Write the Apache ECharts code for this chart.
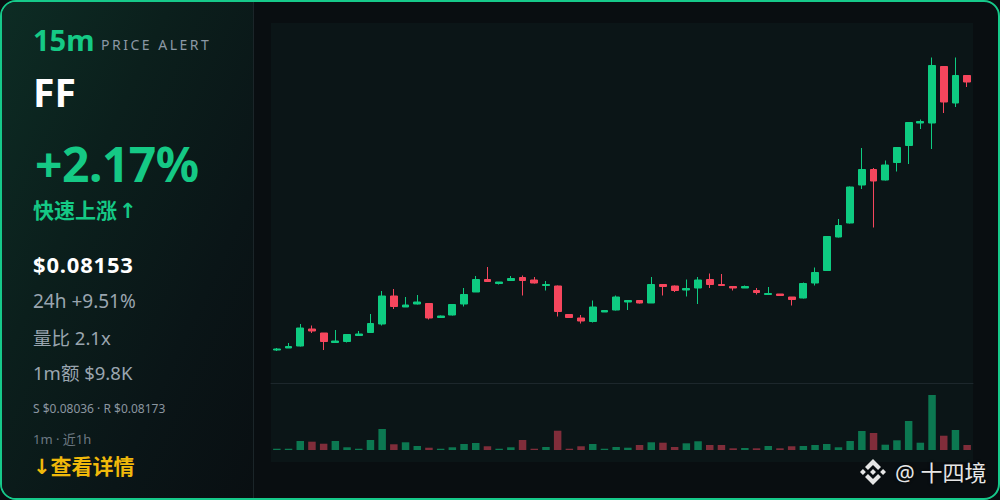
<!DOCTYPE html>
<html><head><meta charset="utf-8">
<script src="https://cdn.jsdelivr.net/npm/echarts/dist/echarts.min.js"></script>
<style>
html,body{margin:0;padding:0;width:1000px;height:500px;overflow:hidden;background:#0a0e11;}
#card{position:absolute;left:0;top:0;width:1000px;height:500px;box-sizing:border-box;border:2px solid #16c98a;border-radius:16px;background:#090e11;z-index:0;}
#plotbg{position:absolute;left:271px;top:23px;width:702px;height:439px;background:#0b1517;z-index:1;}
#chart{position:absolute;left:0;top:0;width:1000px;height:500px;z-index:2;}
#left{position:absolute;left:2px;top:2px;width:251px;height:496px;border-right:1px solid #1b2529;border-radius:14px 0 0 14px;
 background:linear-gradient(115deg,#0d2c24 0%,#0b1f1c 35%,#0a1517 70%,#090f12 100%);z-index:3;}
.t{position:absolute;white-space:nowrap;line-height:1;font-family:"Noto Sans","Noto Sans CJK SC",sans-serif;}
.ar{font-family:"Noto Sans","DejaVu Sans",sans-serif;display:inline-block;}
#wm{position:absolute;left:860px;top:459px;z-index:4;color:#e6e6e6;font-family:"Noto Sans","Noto Sans CJK SC",sans-serif;font-size:22px;line-height:1;white-space:nowrap;display:flex;align-items:center;text-shadow:0 0 3px #000;}
</style></head>
<body>
<div id="card"></div>
<div id="plotbg"></div>
<div id="chart"></div>
<div id="left">
 <div class="t" style="left:31px;top:23px;font-size:29px;font-weight:700;color:#15c985;">15m</div>
 <div class="t" style="left:99px;top:36px;font-size:14px;letter-spacing:2.5px;color:#8b98a5;">PRICE ALERT</div>
 <div class="t" style="left:31px;top:70px;font-size:39px;font-weight:700;color:#ffffff;">FF</div>
 <div class="t" style="left:33px;top:138px;font-size:48px;font-weight:700;color:#15c985;letter-spacing:-0.5px;">+2.17%</div>
 <div class="t" style="left:31px;top:198px;font-size:21px;font-weight:700;color:#15c985;">快速上涨<span class="ar" style="margin-left:2px;">↑</span></div>
 <div class="t" style="left:31px;top:251px;font-size:22px;font-weight:700;color:#ffffff;letter-spacing:0.8px;">$0.08153</div>
 <div class="t" style="left:31px;top:290px;font-size:19px;color:#9aa5af;">24h +9.51%</div>
 <div class="t" style="left:31px;top:327px;font-size:18.5px;color:#9aa5af;">量比 2.1x</div>
 <div class="t" style="left:31px;top:362px;font-size:18.5px;color:#9aa5af;">1m额 $9.8K</div>
 <div class="t" style="left:31px;top:401px;font-size:12px;color:#8b96a0;">S $0.08036 · R $0.08173</div>
 <div class="t" style="left:31px;top:431px;font-size:13px;color:#6d7983;">1m · 近1h</div>
 <div class="t" style="left:31px;top:454px;font-size:21px;font-weight:700;color:#f0b90b;"><span class="ar" style="margin-right:0px;">↓</span>查看详情</div>
</div>
<div id="wm">
 <svg width="26" height="26" viewBox="0 0 126.61 126.61" style="margin-right:9px"><g fill="#e6e6e6"><path d="M38.730 53.2l24.59-24.58 24.6 24.6 14.3-14.31L63.32 0l-38.9 38.9zM0 63.31l14.3-14.31 14.31 14.31-14.31 14.3zM38.73 73.41l24.59 24.59 24.6-24.6 14.31 14.29-38.9 38.91-38.91-38.88zM98 63.31l14.3-14.31 14.31 14.3-14.31 14.32z"/><path d="M77.83 63.3L63.32 48.78 52.59 59.51l-1.24 1.23-2.54 2.54 14.51 14.5 14.51-14.47z"/></g></svg>
 <span>@ 十四境</span>
</div>
<script>
var minutes = ["09:01","09:02","09:03","09:04","09:05","09:06","09:07","09:08","09:09","09:10",
"09:11","09:12","09:13","09:14","09:15","09:16","09:17","09:18","09:19","09:20",
"09:21","09:22","09:23","09:24","09:25","09:26","09:27","09:28","09:29","09:30",
"09:31","09:32","09:33","09:34","09:35","09:36","09:37","09:38","09:39","09:40",
"09:41","09:42","09:43","09:44","09:45","09:46","09:47","09:48","09:49","09:50",
"09:51","09:52","09:53","09:54","09:55","09:56","09:57","09:58","09:59","10:00"];
var opens = [0.080452,0.080460,0.080468,0.080536,0.080520,0.080482,0.080486,0.080510,0.080522,0.080556,
0.080668,0.080624,0.080636,0.080638,0.080582,0.080592,0.080636,0.080684,0.080734,0.080718,
0.080730,0.080742,0.080732,0.080710,0.080708,0.080594,0.080580,0.080566,0.080604,0.080612,
0.080644,0.080650,0.080640,0.080714,0.080708,0.080692,0.080700,0.080734,0.080714,0.080706,
0.080700,0.080690,0.080674,0.080676,0.080664,0.080660,0.080720,0.080770,0.080904,0.080960,
0.081112,0.081174,0.081132,0.081202,0.081270,0.081360,0.081360,0.081586,0.081440,0.081550];
var closes = [0.080456,0.080466,0.080540,0.080528,0.080486,0.080488,0.080514,0.080516,0.080558,0.080668,
0.080626,0.080632,0.080644,0.080580,0.080588,0.080634,0.080674,0.080734,0.080726,0.080724,
0.080738,0.080730,0.080720,0.080714,0.080606,0.080582,0.080568,0.080624,0.080610,0.080664,
0.080650,0.080640,0.080714,0.080706,0.080690,0.080698,0.080732,0.080714,0.080710,0.080700,
0.080706,0.080682,0.080678,0.080670,0.080654,0.080718,0.080762,0.080906,0.080950,0.081104,
0.081174,0.081128,0.081192,0.081262,0.081362,0.081366,0.081590,0.081444,0.081550,0.081524];
var lows = [0.080448,0.080460,0.080466,0.080520,0.080452,0.080482,0.080482,0.080510,0.080522,0.080550,
0.080616,0.080624,0.080634,0.080574,0.080582,0.080590,0.080626,0.080684,0.080726,0.080714,
0.080730,0.080670,0.080718,0.080690,0.080586,0.080580,0.080558,0.080562,0.080604,0.080610,
0.080612,0.080638,0.080640,0.080670,0.080684,0.080666,0.080636,0.080700,0.080708,0.080690,
0.080700,0.080674,0.080674,0.080670,0.080630,0.080658,0.080710,0.080768,0.080902,0.080958,
0.081096,0.080942,0.081130,0.081166,0.081196,0.081336,0.081256,0.081400,0.081424,0.081504];
var highs = [0.080460,0.080480,0.080556,0.080550,0.080520,0.080532,0.080516,0.080528,0.080596,0.080688,
0.080696,0.080664,0.080672,0.080640,0.080590,0.080636,0.080700,0.080748,0.080784,0.080724,
0.080748,0.080750,0.080744,0.080728,0.080710,0.080596,0.080592,0.080650,0.080612,0.080670,
0.080652,0.080652,0.080744,0.080716,0.080710,0.080734,0.080744,0.080758,0.080756,0.080706,
0.080710,0.080700,0.080704,0.080676,0.080664,0.080722,0.080782,0.080908,0.080976,0.081106,
0.081260,0.081180,0.081210,0.081264,0.081364,0.081374,0.081622,0.081588,0.081622,0.081552];
var volumesK = [2.5,2.5,17.6,16.3,12.3,17.6,5.3,2.5,19.6,41.2,
11.2,15.1,7.8,4.5,2.5,5.3,11.8,13.7,7.3,2.5,
5.3,19.6,2.5,5.9,37.8,2.5,7.3,11.8,2.5,5.9,
4.5,9.8,15.1,14.3,5.9,13.1,17.1,9.8,9.8,3.3,
3.9,3.3,7.8,3.3,7.3,7.8,9.8,11.8,5.3,17.6,
37.2,33.3,10.4,19.0,56.8,14.3,107.8,28.0,39.2,9.8];

var UP = '#0ecb81', DOWN = '#f6465d';
var candleData = opens.map(function(o,i){ return [o, closes[i], lows[i], highs[i]]; });
var volData = volumesK.map(function(v,i){
  return {value:v, itemStyle:{color: closes[i] >= opens[i] ? 'rgba(14,203,129,0.55)' : 'rgba(246,70,93,0.5)'}};
});

var chart = echarts.init(document.getElementById('chart'), null, {renderer:'svg', width:1000, height:500});
chart.setOption({
  animation:false,
  backgroundColor:'transparent',
  grid:[
    {left:271, top:23, width:702, height:360},
    {left:271, top:390, width:702, height:60}
  ],
  xAxis:[
    {type:'category', data:minutes, gridIndex:0, boundaryGap:true,
     axisLine:{show:true, lineStyle:{color:'#1d272c', width:1}}, axisTick:{show:false}, axisLabel:{show:false}, splitLine:{show:false}},
    {type:'category', data:minutes, gridIndex:1, boundaryGap:true,
     axisLine:{show:false}, axisTick:{show:false}, axisLabel:{show:false}, splitLine:{show:false}}
  ],
  yAxis:[
    {type:'value', gridIndex:0, min:0.08032, max:0.08176, scale:true,
     axisLine:{show:false}, axisTick:{show:false}, axisLabel:{show:false}, splitLine:{show:false}},
    {type:'value', gridIndex:1, min:0, max:117.6,
     axisLine:{show:false}, axisTick:{show:false}, axisLabel:{show:false}, splitLine:{show:false}}
  ],
  series:[
    {type:'candlestick', xAxisIndex:0, yAxisIndex:0, data:candleData, barWidth:'62%',
     itemStyle:{color:UP, color0:DOWN, borderColor:UP, borderColor0:DOWN, borderWidth:1}},
    {type:'bar', xAxisIndex:1, yAxisIndex:1, data:volData, barWidth:'64%'}
  ]
});
</script>
</body></html>
